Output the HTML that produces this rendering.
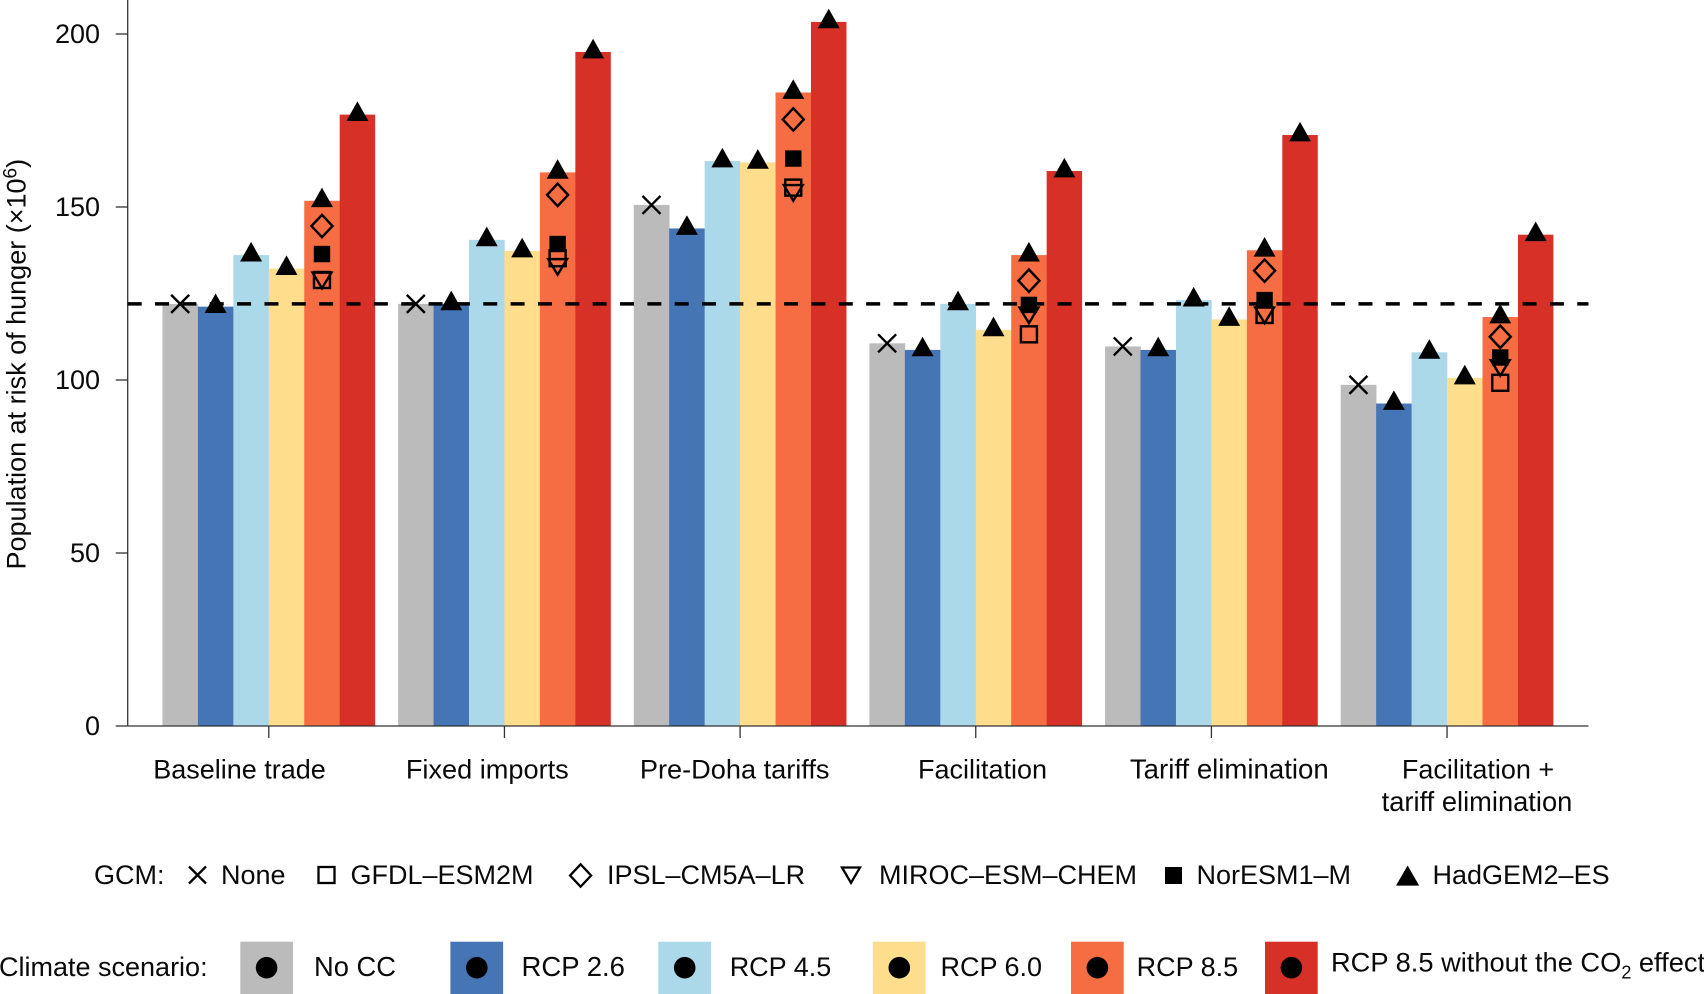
<!DOCTYPE html>
<html lang="en">
<head>
<meta charset="utf-8">
<title>Population at risk of hunger</title>
<style>
html,body{margin:0;padding:0;background:#fff;width:1704px;height:994px;overflow:hidden}
svg{display:block}
text{font-family:"Liberation Sans",Arial,sans-serif;font-size:27px;fill:#0a0a0a}
</style>
</head>
<body>
<svg id="chart" xmlns="http://www.w3.org/2000/svg" width="1704" height="994" viewBox="0 0 1704 994">
  <g id="bars"></g>
  <g id="axes"></g>
  <g id="baseline"></g>
  <g id="markers"></g>

  <text transform="translate(25.5 569.5) rotate(-90)">Population at risk of hunger (×10<tspan dy="-9" font-size="19">6</tspan><tspan dy="9">)</tspan></text>

  <g text-anchor="middle">
    <text x="239.5" y="778.3">Baseline trade</text>
    <text x="487.3" y="778.3" style="font-size:27.15px">Fixed imports</text>
    <text x="734.7" y="778.3" style="font-size:27.15px">Pre-Doha tariffs</text>
    <text x="982.5" y="778.3">Facilitation</text>
    <text x="1229.3" y="778.3" style="font-size:27.6px">Tariff elimination</text>
    <text x="1478" y="778.3">Facilitation +</text>
    <text x="1477" y="811" style="font-size:27.3px">tariff elimination</text>
  </g>

  <g>
    <text x="94" y="884">GCM:</text>
    <g>
      <path d="M189 866.500L206 883.500M206 866.500L189 883.500" stroke="#000" stroke-width="2.300" fill="none"/>
      <text x="221" y="884">None</text>
    </g>
    <g>
      <rect x="318.500" y="867" width="16" height="16" fill="none" stroke="#000" stroke-width="2.300"/>
      <text x="350.500" y="884">GFDL–ESM2M</text>
    </g>
    <g>
      <path d="M580.600 864.300L591.100 875.500L580.600 886.700L570.100 875.500Z" fill="none" stroke="#000" stroke-width="2.300"/>
      <text x="607" y="884">IPSL–CM5A–LR</text>
    </g>
    <g>
      <path d="M842 867.500L860 867.500L851 882.800Z" fill="none" stroke="#000" stroke-width="2.300"/>
      <text x="879" y="884">MIROC–ESM–CHEM</text>
    </g>
    <g>
      <rect x="1165" y="867" width="17" height="17" fill="#000"/>
      <text x="1196.500" y="884">NorESM1–M</text>
    </g>
    <g>
      <path d="M1407.600 865.500L1419.200 885.600L1396 885.600Z" fill="#000"/>
      <text x="1432.500" y="884">HadGEM2–ES</text>
    </g>
  </g>

  <g>
    <text x="-1" y="976">Climate scenario:</text>
    <g>
      <rect x="240.300" y="941.700" width="52.700" height="53" fill="#BBBBBB"/>
      <ellipse cx="266.600" cy="967.700" rx="10.800" ry="10.800" fill="#000"/>
      <text x="314" y="976" style="font-size:27.3px">No CC</text>
    </g>
    <g>
      <rect x="450.400" y="941.700" width="52.700" height="53" fill="#4575B4"/>
      <ellipse cx="476.800" cy="967.700" rx="10.800" ry="10.800" fill="#000"/>
      <text x="521.500" y="976" style="font-size:27.5px">RCP 2.6</text>
    </g>
    <g>
      <rect x="658.300" y="941.700" width="52.700" height="53" fill="#ABD9E9"/>
      <ellipse cx="684.700" cy="967.700" rx="10.800" ry="10.800" fill="#000"/>
      <text x="729.700" y="976">RCP 4.5</text>
    </g>
    <g>
      <rect x="872.900" y="941.700" width="52.700" height="53" fill="#FEDD8D"/>
      <ellipse cx="899.300" cy="967.700" rx="10.800" ry="10.800" fill="#000"/>
      <text x="940.500" y="976">RCP 6.0</text>
    </g>
    <g>
      <rect x="1071" y="941.700" width="52.700" height="53" fill="#F66D43"/>
      <ellipse cx="1097.400" cy="967.700" rx="10.800" ry="10.800" fill="#000"/>
      <text x="1136.600" y="976">RCP 8.5</text>
    </g>
    <g>
      <rect x="1265" y="941.700" width="52.700" height="53" fill="#D73027"/>
      <ellipse cx="1291.400" cy="967.700" rx="10.800" ry="10.800" fill="#000"/>
      <text x="1331" y="971.700" style="font-size:27.25px">RCP 8.5 without the CO<tspan dy="7" font-size="18">2</tspan><tspan dy="-7"> effect</tspan></text>
    </g>
  </g>
</svg>

<script>
// ---- data ----
const categories = ['Baseline trade', 'Fixed imports', 'Pre-Doha tariffs', 'Facilitation', 'Tariff elimination', 'Facilitation + tariff elimination'];
const scenarios = ['no-cc', 'rcp26', 'rcp45', 'rcp60', 'rcp85', 'rcp85-no-co2'];
const noCC = [122, 122, 150.6, 110.6, 109.7, 98.6];
const rcp26 = [121.2, 122, 143.8, 108.7, 108.7, 93.2];
const rcp45 = [136.1, 140.5, 163.3, 122, 123.1, 108];
const rcp60 = [132.2, 137.3, 162.9, 114.5, 117.5, 100.6];
const rcp85 = [151.8, 160, 183.1, 136.1, 137.5, 118.2];
const rcp85NoCO2 = [176.7, 194.8, 203.5, 160.4, 170.8, 142];
const gfdlRcp85 = [128.9, 135.2, 155.6, 113.2, 118.8, 99.2];
const ipslRcp85 = [144.5, 153.5, 175.3, 128.7, 131.6, 112.5];
const mirocRcp85 = [129.5, 133.4, 154.8, 119.4, 119.4, 104.2];
const noresmRcp85 = [136.4, 139.3, 164, 121.7, 123.1, 106.5];
const yTicks = [0, 50, 100, 150, 200];
const yTickLabels = ['0', '50', '100', '150', '200'];
const referenceLevel = [122];

// ---- layout / scales ----
const NS = 'http://www.w3.org/2000/svg';
const seriesValues = [noCC, rcp26, rcp45, rcp60, rcp85, rcp85NoCO2];
const seriesColors = ['#BBBBBB', '#4575B4', '#ABD9E9', '#FEDD8D', '#F66D43', '#D73027'];
const plotLeft = 127.7, plotRight = 1588.5, y0 = 726, pxPerUnit = 3.46;
const firstCenter = 268.8, groupStep = 235.65, barW = 35.45;
const markerStroke = 2.4;
function yScale(v) { return y0 - v * pxPerUnit; }
function groupCenter(g) { return firstCenter + g * groupStep; }
function barLeft(g, s) { return groupCenter(g) + (s - 3) * barW; }
function barCenter(g, s) { return barLeft(g, s) + barW / 2; }
function make(tag, attrs, parent) {
  const el = document.createElementNS(NS, tag);
  for (const k in attrs) el.setAttribute(k, attrs[k]);
  parent.appendChild(el);
  return el;
}

// ---- bars ----
const barsG = document.getElementById('bars');
categories.forEach(function (cat, g) {
  seriesValues.forEach(function (vals, s) {
    const bar = make('rect', {
      x: barLeft(g, s), y: yScale(vals[g]),
      width: s === 5 ? barW : barW + 0.3, height: y0 - yScale(vals[g]), fill: seriesColors[s]
    }, barsG);
    
    
  });
});

// ---- axes ----
const axesG = document.getElementById('axes');
const axisColor = '#333';
const yLine = make('line', { x1: plotLeft, x2: plotLeft, y1: 0, y2: y0, stroke: axisColor, 'stroke-width': 1.3 }, axesG);


const xLine = make('line', { x1: plotLeft, x2: plotRight, y1: y0, y2: y0, stroke: axisColor, 'stroke-width': 1.3 }, axesG);


yTicks.forEach(function (t, i) {
  const tick = make('line', { x1: plotLeft - 12, x2: plotLeft, y1: yScale(t), y2: yScale(t), stroke: axisColor, 'stroke-width': 1.3 }, axesG);
  
  
  const lab = make('text', { x: 100, y: yScale(t) + 9.2, 'text-anchor': 'end' }, axesG);
  lab.textContent = yTickLabels[i];
  
  
});
categories.forEach(function (cat, g) {
  const tick = make('line', { x1: groupCenter(g), x2: groupCenter(g), y1: y0, y2: y0 + 12, stroke: axisColor, 'stroke-width': 1.3 }, axesG);
  
  
});

// ---- dashed reference line ----
const refG = document.getElementById('baseline');
const refLine = make('line', {
  x1: plotLeft, x2: plotRight, y1: yScale(referenceLevel[0]), y2: yScale(referenceLevel[0]),
  stroke: '#000', 'stroke-width': 3.6, 'stroke-dasharray': '14 13.35'
}, refG);



// ---- markers ----
const markG = document.getElementById('markers');
function crossMark(x, y) {
  return make('path', { d: 'M' + (x - 9) + ' ' + (y - 9) + 'L' + (x + 9) + ' ' + (y + 9) + 'M' + (x + 9) + ' ' + (y - 9) + 'L' + (x - 9) + ' ' + (y + 9), stroke: '#000', 'stroke-width': markerStroke, fill: 'none' }, markG);
}
function openSquareMark(x, y) {
  return make('rect', { x: x - 8, y: y - 8, width: 16, height: 16, fill: 'none', stroke: '#000', 'stroke-width': markerStroke }, markG);
}
function diamondMark(x, y) {
  return make('path', { d: 'M' + x + ' ' + (y - 11.2) + 'L' + (x + 10.5) + ' ' + y + 'L' + x + ' ' + (y + 11.2) + 'L' + (x - 10.5) + ' ' + y + 'Z', fill: 'none', stroke: '#000', 'stroke-width': markerStroke }, markG);
}
function downTriMark(x, y) {
  return make('path', { d: 'M' + (x - 9.4) + ' ' + (y - 5.3) + 'L' + (x + 9.4) + ' ' + (y - 5.3) + 'L' + x + ' ' + (y + 10.3) + 'Z', fill: 'none', stroke: '#000', 'stroke-width': markerStroke }, markG);
}
function filledSquareMark(x, y) {
  return make('rect', { x: x - 8.2, y: y - 8.2, width: 16.4, height: 16.4, fill: '#000' }, markG);
}
function upTriMark(x, y) {
  return make('path', { d: 'M' + x + ' ' + (y - 13.2) + 'L' + (x + 11) + ' ' + (y + 6.4) + 'L' + (x - 11) + ' ' + (y + 6.4) + 'Z', fill: '#000' }, markG);
}
categories.forEach(function (cat, g) {
  const c = crossMark(barCenter(g, 0), yScale(noCC[g]));
  
  

  const sq = openSquareMark(barCenter(g, 4), yScale(gfdlRcp85[g]));
  
  

  const di = diamondMark(barCenter(g, 4), yScale(ipslRcp85[g]));
  
  

  const dn = downTriMark(barCenter(g, 4), yScale(mirocRcp85[g]));
  
  

  const fs = filledSquareMark(barCenter(g, 4), yScale(noresmRcp85[g]));
  
  

  for (let s = 1; s < seriesValues.length; s++) {
    const tri = upTriMark(barCenter(g, s), yScale(seriesValues[s][g]));
    
    
  }
});
</script>
</body>
</html>
